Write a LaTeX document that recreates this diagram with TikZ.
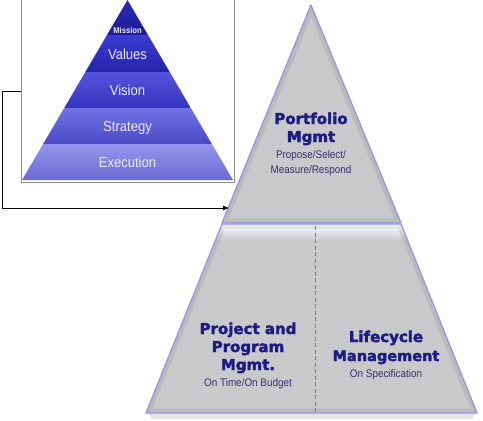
\documentclass[tikz,border=0pt]{standalone}
\usepackage{fontspec}
\setmainfont{Liberation Sans}
\newfontfamily\narrowf{Liberation Sans}[FakeStretch=0.9]
\newfontfamily\heavyf{DejaVu Sans Bold}[FakeBold=2.5]
\usetikzlibrary{arrows.meta}
\definecolor{navy}{RGB}{28,28,132}
\definecolor{subnavy}{RGB}{50,50,112}
\definecolor{lav}{RGB}{150,150,228}
\definecolor{trifill}{RGB}{201,201,203}
\definecolor{pyrtxt}{RGB}{235,235,255}
\definecolor{boxgray}{RGB}{140,140,140}
\begin{document}
\begin{tikzpicture}[x=1pt,y=-1pt,
  pyrtext/.style={text=pyrtxt, font=\narrowf\fontsize{14.5}{16}\selectfont, inner sep=0, anchor=base},
  headtext/.style={text=navy, font=\heavyf\fontsize{15}{18}\selectfont, inner sep=0, anchor=base},
  subtext/.style={text=subnavy, font=\narrowf\fontsize{11}{14}\selectfont, inner sep=0, anchor=base},
  shapeedge/.style={draw=lav, line width=1.3pt, line join=round},
  connector/.style={draw=black, line width=0.8pt, -{Latex[length=6pt,width=5pt]}}
]
\useasboundingbox (0,0) rectangle (483,421);
\fill[white] (0,0) rectangle (483,421);

% ---------- small pyramid in box ----------
\draw[boxgray, line width=0.6pt] (21,-3) rectangle (234,182);
\shade[top color={rgb,255:red,42;green,42;blue,178}, bottom color={rgb,255:red,28;green,28;blue,152}]
  (127.5,0) -- (148,35) -- (107,35) -- cycle;
\shade[top color={rgb,255:red,60;green,60;blue,210}, bottom color={rgb,255:red,36;green,36;blue,170}]
  (107,35) -- (148,35) -- (169.7,72) -- (85.3,72) -- cycle;
\shade[top color={rgb,255:red,84;green,84;blue,222}, bottom color={rgb,255:red,52;green,52;blue,190}]
  (85.3,72) -- (169.7,72) -- (190.8,108) -- (64.2,108) -- cycle;
\shade[top color={rgb,255:red,114;green,114;blue,230}, bottom color={rgb,255:red,74;green,74;blue,200}]
  (64.2,108) -- (190.8,108) -- (211.9,144) -- (43.1,144) -- cycle;
\shade[top color={rgb,255:red,148;green,148;blue,238}, bottom color={rgb,255:red,108;green,108;blue,210}]
  (43.1,144) -- (211.9,144) -- (233,180) -- (22,180) -- cycle;

\node[pyrtext, font=\narrowf\bfseries\fontsize{8.5}{9}\selectfont] (mission) at (127.5,33) {Mission};
\node[pyrtext] (values) at (127.5,59) {Values};
\node[pyrtext] (vision) at (127.5,95) {Vision};
\node[pyrtext] (strategy) at (127.5,131) {Strategy};
\node[pyrtext] (execution) at (127.5,167) {Execution};

% ---------- big triangle ----------
\coordinate (apex) at (311,5);
% shadow
\fill[black, opacity=0.10] (148,413) -- (476,413) -- (472,419) -- (152,419) -- cycle;
% lower trapezoid
\fill[trifill] (222,224) -- (401,224) -- (477,413) -- (146,413) -- cycle;
\begin{scope}
  \clip (222,224) -- (401,224) -- (477,413) -- (146,413) -- cycle;
  \shade[top color=white, bottom color=trifill] (140,224) rectangle (480,240);
  \draw[black, opacity=0.07, line width=9pt] (222,224) -- (401,224) -- (477,413) -- (146,413) -- cycle;
\end{scope}
\path[shapeedge] (222,224) -- (401,224) -- (477,413) -- (146,413) -- cycle;
% upper triangle
\fill[trifill] (apex) -- (401,223) -- (222,223) -- cycle;
\begin{scope}
  \clip (apex) -- (401,223) -- (222,223) -- cycle;
  \draw[black, opacity=0.07, line width=9pt] (apex) -- (401,223) -- (222,223) -- cycle;
\end{scope}
\path[shapeedge] (apex) -- (401,223) -- (222,223) -- cycle;
% dashed divider
\coordinate (divtop) at (315,226);
\coordinate (divbot) at (315,412);
\draw[lav!75!blue, line width=1pt, dash pattern=on 4pt off 2.5pt] (divtop) -- (divbot);

% ---------- texts ----------
\node[headtext] (pf1) at (311,124) {Portfolio};
\node[headtext] (pf2) at (311,142) {Mgmt};
\node[subtext] (pf3) at (311,158) {Propose/Select/};
\node[subtext] (pf4) at (311,173) {Measure/Respond};

\node[headtext] (pp1) at (248,334) {Project and};
\node[headtext] (pp2) at (248,352) {Program};
\node[headtext] (pp3) at (248,370) {Mgmt.};
\node[subtext] (pp4) at (248,386) {On Time/On Budget};

\node[headtext] (lc1) at (386,342) {Lifecycle};
\node[headtext, font=\heavyf\fontsize{14.5}{18}\selectfont] (lc2) at (386,361) {Management};
\node[subtext] (lc3) at (386,377) {On Specification};

% ---------- connector ----------
\coordinate (boxW) at (21,91);
\coordinate (triW) at (229,208);
\draw[connector] (boxW) -- (2,91) |- (triW);
\end{tikzpicture}
\end{document}
